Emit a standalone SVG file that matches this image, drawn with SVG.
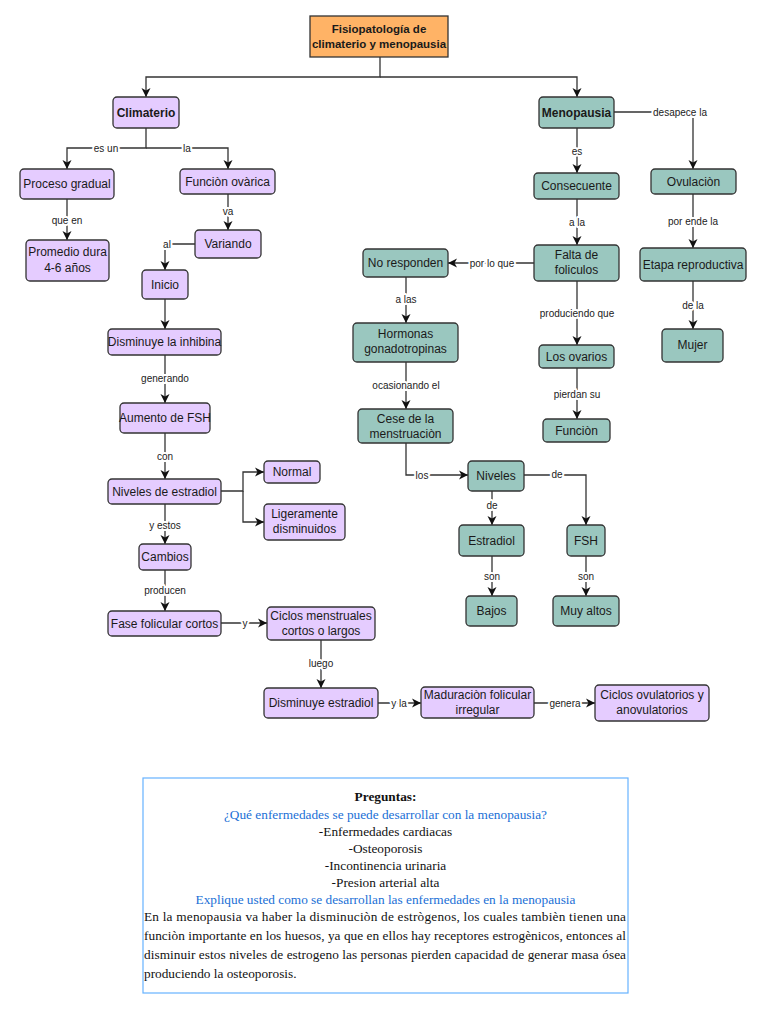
<svg xmlns="http://www.w3.org/2000/svg" width="768" height="1024" viewBox="0 0 768 1024">
<style>
.n rect{stroke:#333;stroke-width:1.3}
.p rect{fill:#E5CCFF}
.g rect{fill:#9AC7BF}
.t{font-family:"Liberation Sans",Arial,sans-serif;font-size:12px;fill:#1a1a1a;text-anchor:middle}
.b{font-weight:bold}
.tt{font-size:11.5px}
.e path{fill:none;stroke:#333;stroke-width:1.3;marker-end:url(#ar)}
.l{font-family:"Liberation Sans",Arial,sans-serif;font-size:10px;fill:#222;text-anchor:middle;stroke:#fff;stroke-width:4;paint-order:stroke;stroke-linejoin:round}
.q{font-family:"Liberation Serif","Times New Roman",serif;font-size:13.3px;fill:#111;text-anchor:middle}
.qb{fill:#1a6fd6}
.pj{font-family:"Liberation Serif","Times New Roman",serif;font-size:13.3px;fill:#111}
</style>
<defs>
<marker id="ar" markerUnits="userSpaceOnUse" markerWidth="10" markerHeight="10" refX="9" refY="5" orient="auto">
<path d="M0,0.5 L9,5 L0,9.5 L2.5,5 z" fill="#111"/>
</marker>
</defs>
<rect width="768" height="1024" fill="#fff"/>

<g id="edges" class="e">
<path d="M380,57 V77 H146 V97"/>
<path d="M380,77 H577 V97"/>
<path d="M146,128 V148 H67 V169"/>
<path d="M146,148 H228 V169"/>
<path d="M67,199 V240"/>
<path d="M228,194 V230"/>
<path d="M195,244 H165 V270"/>
<path d="M165,299 V329"/>
<path d="M165,355 V403"/>
<path d="M165,433 V479"/>
<path d="M221,491 H243 V472 H264"/>
<path d="M243,491 V522 H264"/>
<path d="M165,504 V544"/>
<path d="M165,570 V611"/>
<path d="M221,623 H267"/>
<path d="M321,640 V688"/>
<path d="M378,703 H421"/>
<path d="M534,703 H595"/>
<path d="M614,112 H693 V169"/>
<path d="M693,194 V248"/>
<path d="M693,281 V329"/>
<path d="M577,128 V173"/>
<path d="M577,199 V245"/>
<path d="M534,263 H448"/>
<path d="M406,277 V323"/>
<path d="M406,362 V409"/>
<path d="M406,443 V475 H468"/>
<path d="M492,491 V525"/>
<path d="M524,475 H586 V525"/>
<path d="M492,556 V596"/>
<path d="M586,556 V596"/>
<path d="M577,281 V345"/>
<path d="M577,368 V419"/>
<text class="l" x="106" y="151.5">es un</text>
<text class="l" x="187" y="151.5">la</text>
<text class="l" x="67" y="223.5">que en</text>
<text class="l" x="228" y="214.5">va</text>
<text class="l" x="167" y="247.5">al</text>
<text class="l" x="165" y="381.5">generando</text>
<text class="l" x="165" y="459.5">con</text>
<text class="l" x="165" y="528.5">y estos</text>
<text class="l" x="165" y="593.5">producen</text>
<text class="l" x="245" y="626.5">y</text>
<text class="l" x="321" y="666.5">luego</text>
<text class="l" x="399" y="706.5">y la</text>
<text class="l" x="565" y="706.5">genera</text>
<text class="l" x="680" y="115.5">desapece la</text>
<text class="l" x="693" y="224.5">por ende la</text>
<text class="l" x="693" y="308.5">de la</text>
<text class="l" x="577" y="154.5">es</text>
<text class="l" x="577" y="225.5">a la</text>
<text class="l" x="492" y="266.5">por lo que</text>
<text class="l" x="406" y="302.5">a las</text>
<text class="l" x="406" y="388.5">ocasionando el</text>
<text class="l" x="422" y="478.5">los</text>
<text class="l" x="492" y="508.5">de</text>
<text class="l" x="557" y="477.5">de</text>
<text class="l" x="492" y="579.5">son</text>
<text class="l" x="586" y="579.5">son</text>
<text class="l" x="577" y="316.5">produciendo que</text>
<text class="l" x="577" y="397.5">pierdan su</text>
</g>

<g id="title" class="n"><rect x="310" y="16" width="138" height="41" fill="#FFB366"/><text class="t b tt" x="379" y="33">Fisiopatología de</text><text class="t b tt" x="379" y="48">climaterio y menopausia</text></g>

<g id="climaterio" class="n p"><rect x="113" y="97" width="66" height="31" rx="4"/><text class="t b" x="146" y="116.5">Climaterio</text></g>
<g id="proceso" class="n p"><rect x="20" y="169" width="94" height="30" rx="4"/><text class="t" x="67" y="188">Proceso gradual</text></g>
<g id="funcion-ovarica" class="n p"><rect x="180" y="169" width="95" height="25" rx="4"/><text class="t" x="227.5" y="185.5">Funciòn ovàrica</text></g>
<g id="promedio" class="n p"><rect x="26" y="240" width="83" height="41" rx="4"/><text class="t" x="67.5" y="256">Promedio dura</text><text class="t" x="67.5" y="272">4-6 años</text></g>
<g id="variando" class="n p"><rect x="195" y="230" width="66" height="28" rx="4"/><text class="t" x="228" y="248">Variando</text></g>
<g id="inicio" class="n p"><rect x="142" y="270" width="46" height="29" rx="4"/><text class="t" x="165" y="288.5">Inicio</text></g>
<g id="inhibina" class="n p"><rect x="108" y="329" width="113" height="26" rx="4"/><text class="t" x="164.5" y="346">Disminuye la inhibina</text></g>
<g id="aumento-fsh" class="n p"><rect x="120" y="403" width="90" height="30" rx="4"/><text class="t" x="165" y="422">Aumento de FSH</text></g>
<g id="niveles-estradiol" class="n p"><rect x="108" y="479" width="113" height="25" rx="4"/><text class="t" x="164.5" y="495.5">Niveles de estradiol</text></g>
<g id="normal" class="n p"><rect x="264" y="461" width="56" height="22" rx="4"/><text class="t" x="292" y="476">Normal</text></g>
<g id="ligeramente" class="n p"><rect x="264" y="504" width="81" height="36" rx="4"/><text class="t" x="304.5" y="518">Ligeramente</text><text class="t" x="304.5" y="533">disminuidos</text></g>
<g id="cambios" class="n p"><rect x="139" y="544" width="52" height="26" rx="4"/><text class="t" x="165" y="561">Cambios</text></g>
<g id="fase" class="n p"><rect x="108" y="611" width="113" height="25" rx="4"/><text class="t" x="164.5" y="627.5">Fase folicular cortos</text></g>
<g id="ciclos-menstruales" class="n p"><rect x="267" y="607" width="108" height="33" rx="4"/><text class="t" x="321" y="619.5">Ciclos menstruales</text><text class="t" x="321" y="634.5">cortos o largos</text></g>
<g id="disminuye-estradiol" class="n p"><rect x="264" y="688" width="114" height="30" rx="4"/><text class="t" x="321" y="707">Disminuye estradiol</text></g>
<g id="maduracion" class="n p"><rect x="421" y="687" width="113" height="31" rx="4"/><text class="t" x="477.5" y="699">Maduraciòn folicular</text><text class="t" x="477.5" y="714">irregular</text></g>
<g id="ciclos-ovulatorios" class="n p"><rect x="595" y="685" width="114" height="36" rx="4"/><text class="t" x="652" y="699">Ciclos ovulatorios y</text><text class="t" x="652" y="714">anovulatorios</text></g>

<g id="menopausia" class="n g"><rect x="539" y="97" width="75" height="31" rx="4"/><text class="t b" x="576.5" y="116.5">Menopausia</text></g>
<g id="ovulacion" class="n g"><rect x="651" y="169" width="85" height="25" rx="4"/><text class="t" x="693.5" y="185.5">Ovulaciòn</text></g>
<g id="etapa" class="n g"><rect x="640" y="248" width="106" height="33" rx="4"/><text class="t" x="693" y="268.5">Etapa reproductiva</text></g>
<g id="mujer" class="n g"><rect x="662" y="329" width="61" height="33" rx="4"/><text class="t" x="692.5" y="348.5">Mujer</text></g>
<g id="consecuente" class="n g"><rect x="534" y="173" width="85" height="26" rx="4"/><text class="t" x="576.5" y="190">Consecuente</text></g>
<g id="falta" class="n g"><rect x="534" y="245" width="85" height="36" rx="4"/><text class="t" x="576.5" y="259">Falta de</text><text class="t" x="576.5" y="274">foliculos</text></g>
<g id="no-responden" class="n g"><rect x="363" y="249" width="85" height="28" rx="4"/><text class="t" x="405.5" y="267">No responden</text></g>
<g id="hormonas" class="n g"><rect x="353" y="323" width="105" height="39" rx="4"/><text class="t" x="405.5" y="338">Hormonas</text><text class="t" x="405.5" y="353">gonadotropinas</text></g>
<g id="cese" class="n g"><rect x="358" y="409" width="95" height="34" rx="4"/><text class="t" x="405.5" y="422.5">Cese de la</text><text class="t" x="405.5" y="437.5">menstruaciòn</text></g>
<g id="niveles" class="n g"><rect x="468" y="461" width="56" height="30" rx="4"/><text class="t" x="496" y="480">Niveles</text></g>
<g id="estradiol" class="n g"><rect x="459" y="525" width="65" height="31" rx="4"/><text class="t" x="491.5" y="544.5">Estradiol</text></g>
<g id="fsh" class="n g"><rect x="567" y="525" width="38" height="31" rx="4"/><text class="t" x="586" y="544.5">FSH</text></g>
<g id="bajos" class="n g"><rect x="466" y="596" width="51" height="30" rx="4"/><text class="t" x="491.5" y="615">Bajos</text></g>
<g id="muy-altos" class="n g"><rect x="553" y="596" width="66" height="30" rx="4"/><text class="t" x="586" y="615">Muy altos</text></g>
<g id="los-ovarios" class="n g"><rect x="539" y="345" width="75" height="23" rx="4"/><text class="t" x="576.5" y="360.5">Los ovarios</text></g>
<g id="funcion" class="n g"><rect x="543" y="419" width="67" height="23" rx="4"/><text class="t" x="576.5" y="434.5">Funciòn</text></g>

<g id="preguntas">
<rect x="143" y="778" width="485" height="215" fill="#fff" stroke="#66B2FF" stroke-width="1.2"/>
<text class="q" x="385.5" y="801" font-weight="bold">Preguntas:</text>
<text class="q qb" x="385.5" y="819">¿Qué enfermedades se puede desarrollar con la menopausia?</text>
<text class="q" x="385.5" y="836">-Enfermedades cardiacas</text>
<text class="q" x="385.5" y="853">-Osteoporosis</text>
<text class="q" x="385.5" y="870">-Incontinencia urinaria</text>
<text class="q" x="385.5" y="887">-Presion arterial alta</text>
<text class="q qb" x="385.5" y="904">Explique usted como se desarrollan las enfermedades en la menopausia</text>
<text class="pj" x="144" y="921" textLength="482" lengthAdjust="spacing">En la menopausia va haber la disminuciòn de estrògenos, los cuales tambièn tienen una</text>
<text class="pj" x="144" y="940" textLength="482" lengthAdjust="spacing">funciòn importante en los huesos, ya que en ellos hay receptores estrogènicos, entonces al</text>
<text class="pj" x="144" y="959" textLength="482" lengthAdjust="spacing">disminuir estos niveles de estrogeno las personas pierden capacidad de generar masa ósea</text>
<text class="pj" x="144" y="978">produciendo la osteoporosis.</text>
</g>
</svg>
